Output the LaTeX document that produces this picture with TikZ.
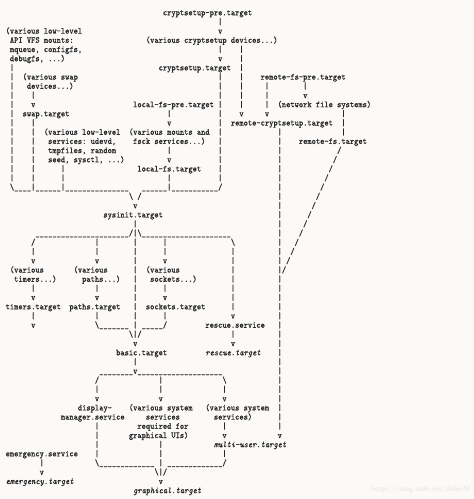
\documentclass[tikz,border=0pt]{standalone}
\usepackage{fontspec}
\setmonofont[FakeStretch=0.88,FakeBold=0.35]{Latin Modern Mono}
\ExplSyntaxOn
\cs_new:Npn \Us #1 { \prg_replicate:nn {#1} {\textunderscore} }
\ExplSyntaxOff
\newcommand\BSL{\textbackslash}
\definecolor{bgpaper}{RGB}{252,250,248}
\definecolor{ink}{RGB}{40,40,40}
\tikzset{
  txt/.style={anchor=base west, inner sep=0pt, outer sep=0pt, text=ink,
    font=\fontsize{9.2}{9.2}\selectfont\ttfamily\frenchspacing},
  itxt/.style={txt, font=\fontsize{9.2}{9.2}\selectfont\ttfamily\itshape\frenchspacing},
  wmark/.style={anchor=base east, inner sep=0pt, text=black!10,
    font=\fontsize{7.5}{7.5}\selectfont\sffamily}
}
\newcommand\T[3]{\node[txt] (t#1-#2) at ({1.4+4.25*#2},{-15.3-9.19*#1}) {#3};}
\newcommand\TI[3]{\node[itxt] (t#1-#2) at ({1.4+4.25*#2},{-15.3-9.19*#1}) {#3};}
\begin{document}
\begin{tikzpicture}[x=1pt,y=1pt]
\fill[bgpaper] (0,0) rectangle (474,-499);
\useasboundingbox (0,0) rectangle (474,-499);
% row 0-5
\T{0}{38}{cryptsetup-pre.target}
\T{1}{51}{|}
\T{2}{1}{(various low-level} \T{2}{51}{v}
\T{3}{2}{API VFS mounts:} \T{3}{34}{(various cryptsetup devices...)}
\T{4}{2}{mqueue, configfs,} \T{4}{51}{|} \T{4}{56}{|}
\T{5}{2}{debugfs, ...)} \T{5}{51}{v} \T{5}{56}{|}
\T{6}{2}{|} \T{6}{37}{cryptsetup.target} \T{6}{56}{|}
\T{7}{2}{|} \T{7}{5}{(various swap} \T{7}{51}{|} \T{7}{56}{|} \T{7}{61}{remote-fs-pre.target}
\T{8}{2}{|} \T{8}{6}{devices...)} \T{8}{51}{|} \T{8}{56}{|} \T{8}{62}{|} \T{8}{71}{|}
\T{9}{2}{|} \T{9}{7}{|} \T{9}{51}{|} \T{9}{56}{|} \T{9}{62}{|} \T{9}{71}{v}
\T{10}{2}{|} \T{10}{7}{v} \T{10}{31}{local-fs-pre.target} \T{10}{51}{|} \T{10}{56}{|} \T{10}{62}{|} \T{10}{65}{(network file systems)}
\T{11}{2}{|} \T{11}{5}{swap.target} \T{11}{39}{|} \T{11}{51}{|} \T{11}{56}{v} \T{11}{62}{v} \T{11}{80}{|}
\T{12}{2}{|} \T{12}{7}{|} \T{12}{39}{v} \T{12}{51}{|} \T{12}{54}{remote-cryptsetup.target} \T{12}{80}{|}
\T{13}{2}{|} \T{13}{7}{|} \T{13}{10}{(various low-level} \T{13}{30}{(various mounts and} \T{13}{51}{|} \T{13}{65}{|} \T{13}{80}{|}
\T{14}{2}{|} \T{14}{7}{|} \T{14}{11}{services: udevd,} \T{14}{31}{fsck services...)} \T{14}{51}{|} \T{14}{65}{|} \T{14}{70}{remote-fs.target}
\T{15}{2}{|} \T{15}{7}{|} \T{15}{11}{tmpfiles, random} \T{15}{39}{|} \T{15}{51}{|} \T{15}{65}{|} \T{15}{79}{/}
\T{16}{2}{|} \T{16}{7}{|} \T{16}{11}{seed, sysctl, ...)} \T{16}{39}{v} \T{16}{51}{|} \T{16}{65}{|} \T{16}{78}{/}
\T{17}{2}{|} \T{17}{7}{|} \T{17}{14}{|} \T{17}{32}{local-fs.target} \T{17}{51}{|} \T{17}{65}{|} \T{17}{77}{/}
\T{18}{2}{|} \T{18}{7}{|} \T{18}{14}{|} \T{18}{39}{|} \T{18}{51}{|} \T{18}{65}{|} \T{18}{76}{/}
\T{19}{2}{\BSL\Us{4}|\Us{6}|\Us{15}} \T{19}{33}{\Us{6}|\Us{11}/} \T{19}{65}{|} \T{19}{75}{/}
\T{20}{30}{\BSL{} /} \T{20}{65}{|} \T{20}{74}{/}
\T{21}{31}{v} \T{21}{65}{|} \T{21}{73}{/}
\T{22}{24}{sysinit.target} \T{22}{65}{|} \T{22}{72}{/}
\T{23}{31}{|} \T{23}{65}{|} \T{23}{71}{/}
\T{24}{8}{\Us{22}/|\BSL\Us{21}} \T{24}{65}{|} \T{24}{70}{/}
\T{25}{7}{/} \T{25}{22}{|} \T{25}{31}{|} \T{25}{38}{|} \T{25}{54}{\BSL} \T{25}{65}{|} \T{25}{69}{/}
\T{26}{7}{|} \T{26}{22}{|} \T{26}{31}{|} \T{26}{38}{|} \T{26}{54}{|} \T{26}{65}{|} \T{26}{68}{/}
\T{27}{7}{v} \T{27}{22}{v} \T{27}{31}{|} \T{27}{38}{v} \T{27}{54}{|} \T{27}{65}{|} \T{27}{67}{/}
\T{28}{2}{(various} \T{28}{17}{(various} \T{28}{31}{|} \T{28}{34}{(various} \T{28}{54}{|} \T{28}{65}{|} \T{28}{66}{/}
\T{29}{3}{timers...)} \T{29}{19}{paths...)} \T{29}{31}{|} \T{29}{35}{sockets...)} \T{29}{54}{|} \T{29}{65}{|}
\T{30}{7}{|} \T{30}{22}{|} \T{30}{31}{|} \T{30}{38}{|} \T{30}{54}{|} \T{30}{65}{|}
\T{31}{7}{v} \T{31}{22}{v} \T{31}{31}{|} \T{31}{38}{v} \T{31}{54}{|} \T{31}{65}{|}
\T{32}{1}{timers.target} \T{32}{16}{paths.target} \T{32}{31}{|} \T{32}{34}{sockets.target} \T{32}{54}{|} \T{32}{65}{|}
\T{33}{7}{|} \T{33}{22}{|} \T{33}{31}{|} \T{33}{38}{|} \T{33}{54}{v} \T{33}{65}{|}
\T{34}{7}{v} \T{34}{22}{\BSL\Us{7} | \Us{5}/} \T{34}{48}{rescue.service} \T{34}{65}{|}
\T{35}{30}{\BSL|/} \T{35}{54}{|} \T{35}{65}{|}
\T{36}{31}{v} \T{36}{54}{v} \T{36}{65}{|}
\T{37}{27}{basic.target} \TI{37}{48}{rescue.target} \T{37}{65}{|}
\T{38}{31}{|} \T{38}{65}{|}
\T{39}{23}{\Us{8}v\Us{20}} \T{39}{65}{|}
\T{40}{22}{/} \T{40}{37}{|} \T{40}{52}{\BSL} \T{40}{65}{|}
\T{41}{22}{|} \T{41}{37}{|} \T{41}{52}{|} \T{41}{65}{|}
\T{42}{22}{v} \T{42}{37}{v} \T{42}{52}{v} \T{42}{65}{|}
\T{43}{18}{display-} \T{43}{30}{(various system} \T{43}{48}{(various system} \T{43}{65}{|}
\T{44}{14}{manager.service} \T{44}{34}{services} \T{44}{50}{services)} \T{44}{65}{|}
\T{45}{22}{|} \T{45}{32}{required for} \T{45}{52}{|} \T{45}{65}{|}
\T{46}{22}{|} \T{46}{30}{graphical UIs)} \T{46}{52}{v} \T{46}{65}{v}
\T{47}{22}{|} \T{47}{37}{|} \TI{47}{50}{multi-user.target}
\T{48}{1}{emergency.service} \T{48}{22}{|} \T{48}{37}{|} \T{48}{52}{|}
\T{49}{9}{|} \T{49}{22}{\BSL\Us{13} | \Us{13}/}
\T{50}{9}{v} \T{50}{36}{\BSL|/}
\TI{51}{1}{emergency.target} \T{51}{37}{v}
\TI{52}{31}{graphical.target}
\node[wmark] (wm) at (470,-491) {https://blog.csdn.net/Allen5I};
\end{tikzpicture}
\end{document}
